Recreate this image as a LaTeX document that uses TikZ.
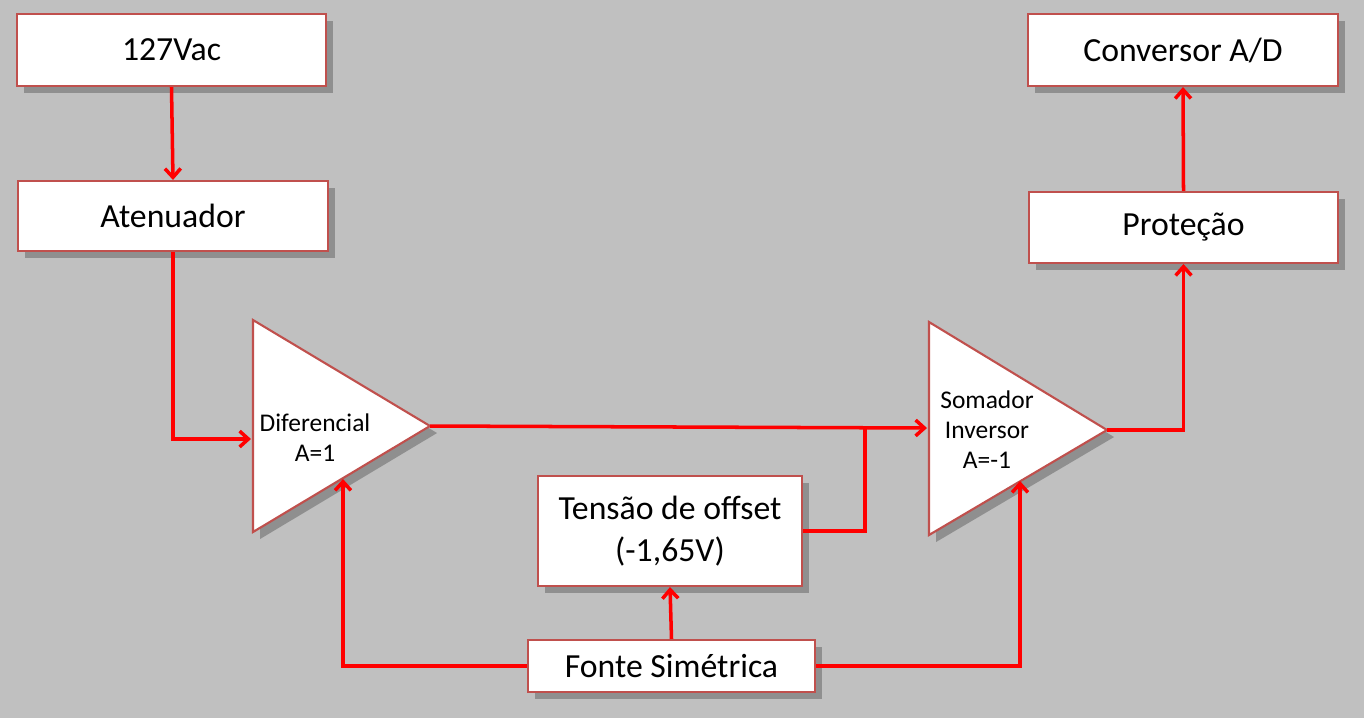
\documentclass[tikz,border=0pt]{standalone}
\usepackage{fontspec}
\setmainfont{Carlito}
\usetikzlibrary{shadows,arrows.meta}
\definecolor{bg}{HTML}{C0C0C0}
\definecolor{bord}{HTML}{C0504D}
\tikzset{
  blk/.style={draw=bord,line width=1.2pt,fill=white,font=\fontsize{19.2}{22}\selectfont,
    drop shadow={shadow xshift=4pt,shadow yshift=-4pt,opacity=0.25,fill=black}},
  tri/.style={draw=bord,line width=1.2pt,fill=white,
    drop shadow={shadow xshift=4pt,shadow yshift=-4pt,opacity=0.25,fill=black}},
  wire/.style={red,line width=2pt},
  arr/.style={wire,-{Straight Barb[length=5pt,width=9pt]}}
}
\begin{document}
\begin{tikzpicture}[x=0.02cm,y=-0.02cm]
\fill[bg] (0,0) rectangle (1364,718);
\useasboundingbox (0,0) rectangle (1364,718);
\node[blk,minimum width=309*0.02cm,minimum height=72*0.02cm] (vac) at (171.5,50) {127Vac};
\node[blk,minimum width=310*0.02cm,minimum height=70*0.02cm] (ate) at (173,216) {Atenuador};
\node[blk,minimum width=310*0.02cm,minimum height=72*0.02cm] (ad) at (1183,50) {Conversor A/D};
\node[blk,minimum width=309*0.02cm,minimum height=71*0.02cm] (pro) at (1183.5,227.5) {Proteção};
\node[blk,minimum width=264*0.02cm,minimum height=110*0.02cm,align=center] (off) at (670,531) {Tensão de offset\\[2pt](-1,65V)};
\node[blk,minimum width=287*0.02cm,minimum height=52*0.02cm] (fon) at (671.5,666) {Fonte Simétrica};
\filldraw[tri] (253,320) -- (430,426) -- (253,532) -- cycle;
\filldraw[tri] (929,322) -- (1107,430) -- (929,535) -- cycle;
\coordinate (dtip) at (430,426);
\coordinate (din) at (251,439);
\coordinate (dbot) at (343,479);
\coordinate (stip) at (1107,430);
\coordinate (sin) at (927,428);
\coordinate (sbot) at (1020,481);
\coordinate (join) at (865,428);
\node[font=\fontsize{14.5}{17}\selectfont,align=center] (dl) at (315,438) {Diferencial\\A=1};
\node[font=\fontsize{14.5}{17}\selectfont,align=center] (sl) at (987,430) {Somador\\Inversor\\A=-1};
\draw[arr] (vac.south) -- (ate.north);
\draw[arr] (ate.south) |- (din);
\draw[arr] (dtip) -- (sin);
\draw[wire] (off.east) -| (join);
\draw[arr] (fon.west) -| (dbot);
\draw[arr] (fon.north) -- (off.south);
\draw[arr] (fon.east) -| (sbot);
\draw[arr] (stip) -| (pro.south);
\draw[arr] (pro.north) -- (ad.south);
\end{tikzpicture}
\end{document}
